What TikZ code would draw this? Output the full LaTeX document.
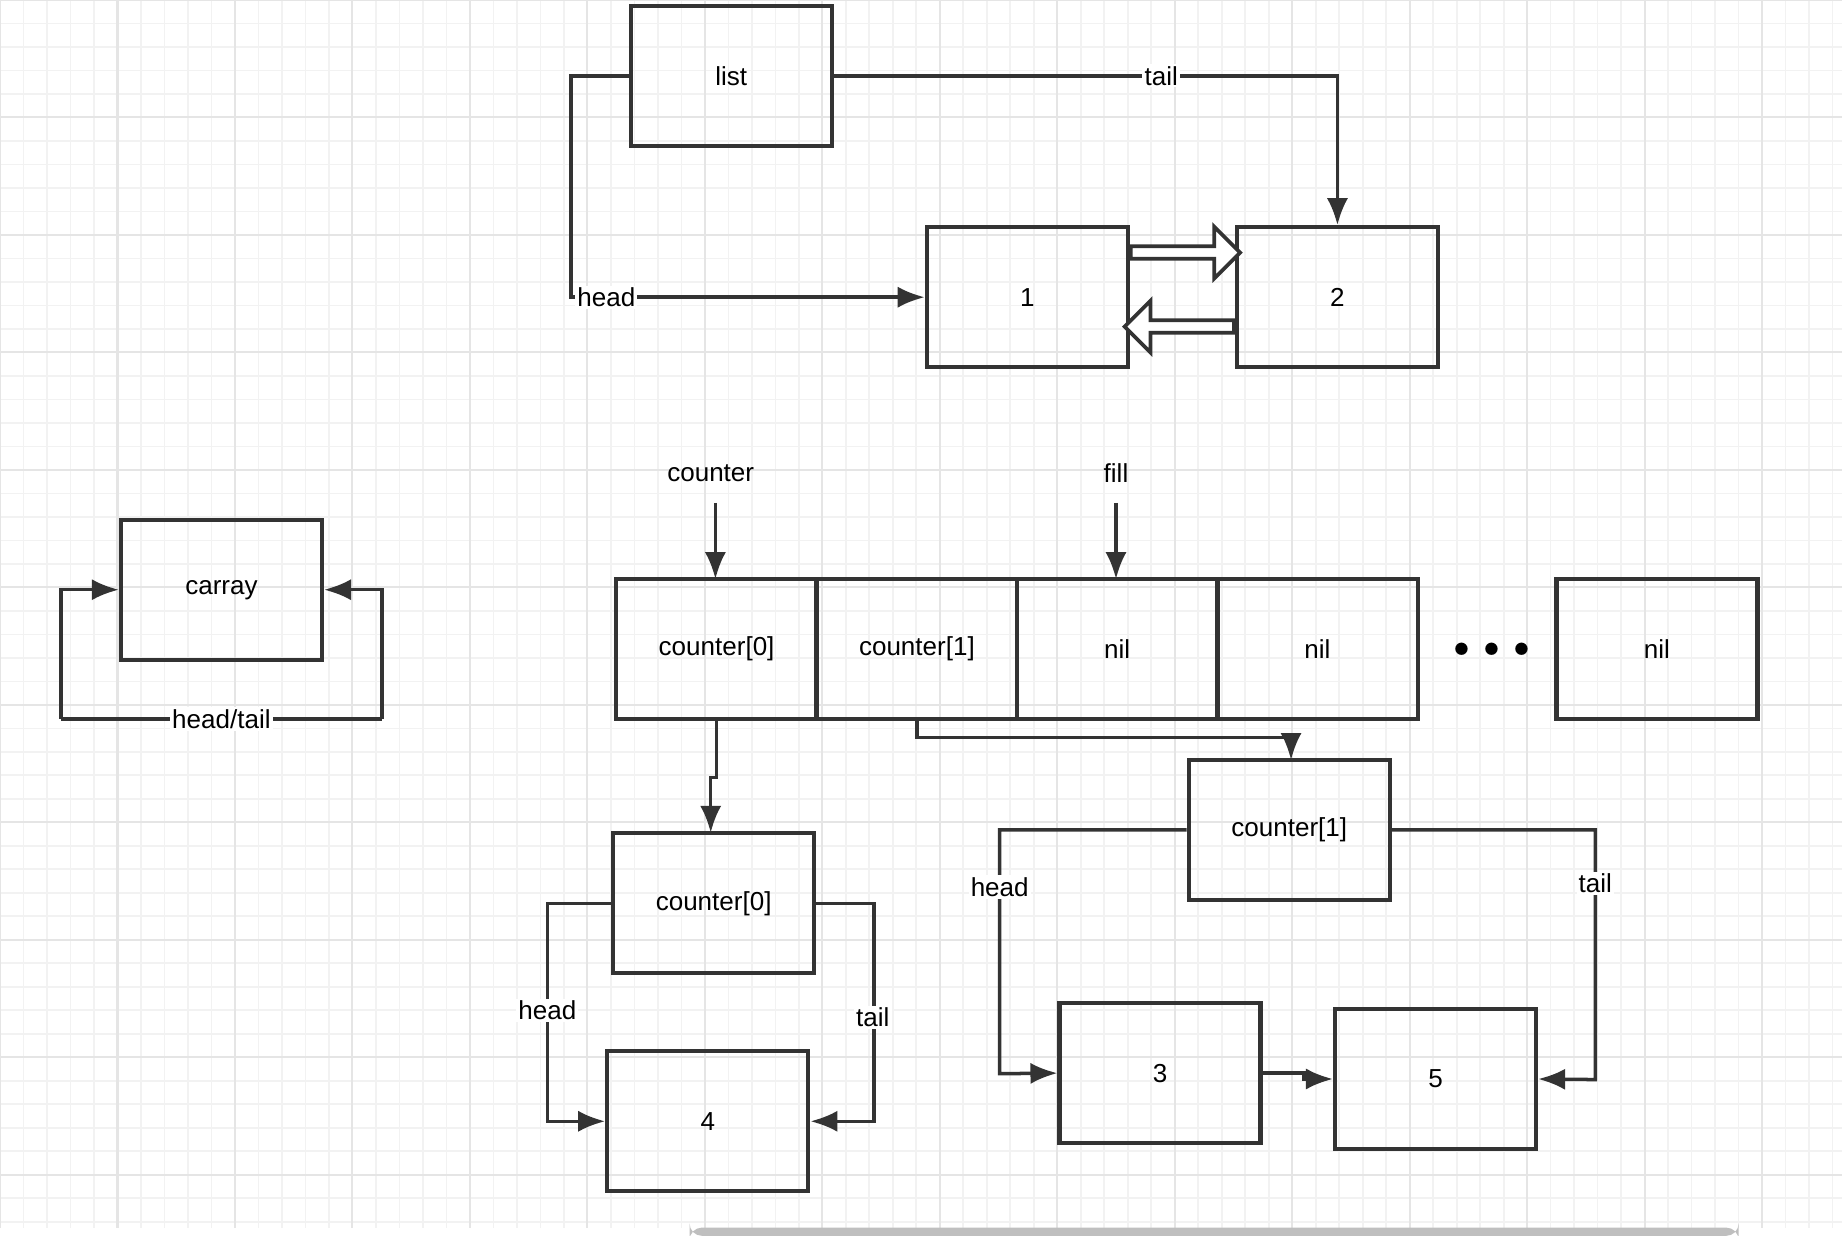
\documentclass[tikz,border=0pt]{standalone}
\usepackage{fontspec}
\setmainfont{Liberation Sans}
\usetikzlibrary{arrows.meta,shapes.arrows}
\begin{document}
\begin{tikzpicture}[x=0.01cm,y=-0.01cm,
  box/.style={draw=black!80,line width=1pt,minimum width=1.71cm,minimum height=1.19cm,inner sep=0pt,font=\fontsize{6.3}{7}\selectfont},
  con/.style={draw=black!80,line width=0.85pt,-{Latex[length=0.23cm,width=0.18cm]}},
  lnk/.style={draw=black!80,line width=0.85pt},
  lab/.style={fill=white,inner sep=0.5pt,font=\fontsize{6.3}{7}\selectfont},
  harrow/.style={single arrow,draw=black!80,line width=0.9pt,fill=white,minimum height=0.93cm,minimum width=0.44cm,single arrow head extend=0.05cm,inner sep=0pt}]
\useasboundingbox (0,0) rectangle (1568,1052);
\fill[white] (0,0) rectangle (1568,1052);
\foreach \x in {0,20,...,1560} \draw[black!5,line width=0.4pt] (\x,0) -- (\x,1045);
\foreach \y in {0,20,...,1040} \draw[black!5,line width=0.4pt] (0,\y) -- (1568,\y);
\foreach \x in {0,100,...,1500} \draw[black!10,line width=0.5pt] (\x,0) -- (\x,1045);
\foreach \y in {0,100,...,1000} \draw[black!10,line width=0.5pt] (0,\y) -- (1568,\y);
\fill[black!25,rounded corners=3pt] (587,1045) rectangle (1480,1052);

\node[box] (list) at (622.5,64.5) {list};
\node[box] (n1) at (874.5,253) {1};
\node[box] (n2) at (1138.5,253) {2};
\node[box] (carray) at (188.5,502) {carray};
\node[box] (c0) at (610,552.5) {counter[0]};
\node[box] (c1) at (780.5,552.5) {counter[1]};
\node[box] (z1) at (951,552.5) {nil};
\node[box] (z2) at (1121.5,552.5) {nil};
\node[box] (z3) at (1410.5,552.5) {nil};
\node (dots) at (1270,553) {\fontsize{7}{7}\selectfont$\bullet\,\bullet\,\bullet$};
\node[box] (b1) at (1097.5,706.5) {counter[1]};
\node[box] (b0) at (607.5,769) {counter[0]};
\node[box] (n4) at (602.5,954.5) {4};
\node[box] (n3) at (987.5,913.5) {3};
\node[box] (n5) at (1222,918.5) {5};

\node[harrow] (ha) at (1006.5,215) {};
\node[harrow,shape border rotate=180] (hb) at (1006.5,278) {};

\draw[con] (list.west) -- (486,64.5) -- (486,253) -- (n1.west) node[lab,pos=0.1] {head};
\draw[con] (list.east) -- (1138.5,64.5) node[lab,pos=0.65] {tail} -- (n2.north);
\draw[con] (52,612) -- (52,502) -- (carray.west);
\draw[con] (325,612) -- (325,502) -- (carray.east);
\draw[lnk] (52,612) -- (325,612) node[lab,midway] {head/tail};

\node[lab,fill=none] (lc) at (605,403) {counter};
\node[lab,fill=none] (lf) at (950,403) {fill};
\coordinate (ac) at (609,428); \coordinate (af) at (950,428);
\draw[con] (ac) -- (609,493);
\draw[con] (af) -- (950,493);

\draw[con] (c0.south) -- (610,662) -- (605,662) -- (605,709);
\draw[con] (c1.south) -- (780.5,628) -- (1099,628) -- (1099,647);

\draw[con] (b1.west) -- (851,706.5) -- (851,914) -- (n3.west);
\node[lab] at (851,755) {head};
\draw[con] (b1.east) -- (1358,706.5) -- (1358,919) -- (n5.east);
\node[lab] at (1358,752) {tail};
\draw[con] (n3.east) -- (1110,913.5) -- (1110,918.5) -- (n5.west);

\draw[con] (b0.west) -- (466,769) -- (466,954.5) -- (n4.west);
\node[lab] at (466,860) {head};
\draw[con] (b0.east) -- (744,769) -- (744,954.5) -- (n4.east);
\node[lab] at (743,866) {tail};
\end{tikzpicture}
\end{document}
